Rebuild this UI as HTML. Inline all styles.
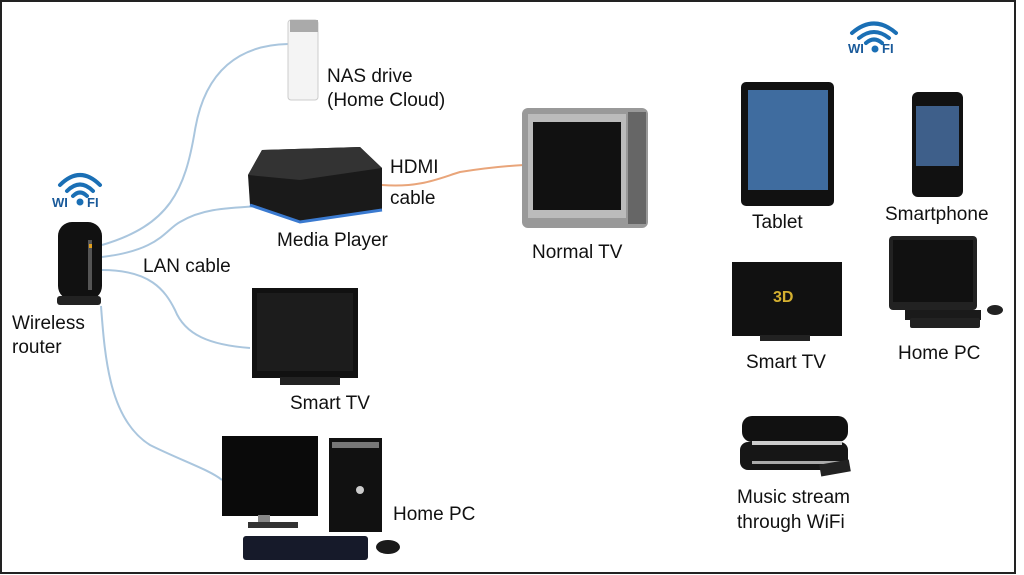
<!DOCTYPE html>
<html><head><meta charset="utf-8"><style>
html,body{margin:0;padding:0;background:#fff;}
svg{display:block}
text{font-family:"Liberation Sans",sans-serif;font-size:19px;fill:#111;}
</style></head><body>
<svg width="1024" height="575" viewBox="0 0 1024 575" xmlns="http://www.w3.org/2000/svg">
<rect x="1" y="1" width="1014" height="572" fill="#fff" stroke="#222" stroke-width="2"/>
<!-- cables -->
<g fill="none" stroke="#aac6de" stroke-width="2">
<path d="M102,245 C170,225 185,190 195,130 C205,70 240,45 288,44"/>
<path d="M102,257 C160,250 165,230 180,222 C200,210 220,208 262,206"/>
<path d="M102,270 C150,270 165,290 175,310 C185,335 210,345 250,348"/>
<path d="M101,306 C105,360 110,420 150,445 C180,460 210,470 222,480"/>
</g>
<path d="M382,185 C420,188 440,178 460,172 C485,168 505,166 524,165" fill="none" stroke="#e9a57a" stroke-width="2"/>
<!-- wifi icons -->
<g fill="none" stroke="#1a6fb5" stroke-width="4" stroke-linecap="round">
<path d="M60,185 Q80,165 100,185"/><path d="M67,191 Q80,178 93,191"/><path d="M73,196 Q80,189 87,196"/>
<path d="M852,33 Q874,14 896,33"/><path d="M859,38 Q874,26 889,38"/><path d="M866,43 Q874,36 882,43"/>
</g>
<text x="52" y="207" style="font-size:13px;font-weight:bold;fill:#1a5a9a">WI</text><circle cx="80" cy="202" r="3.5" fill="#1a6fb5"/><text x="87" y="207" style="font-size:13px;font-weight:bold;fill:#1a5a9a">FI</text>
<text x="848" y="53" style="font-size:13px;font-weight:bold;fill:#1a5a9a">WI</text><circle cx="875" cy="49" r="3.5" fill="#1a6fb5"/><text x="882" y="53" style="font-size:13px;font-weight:bold;fill:#1a5a9a">FI</text>
<!-- router -->
<rect x="58" y="222" width="44" height="78" rx="14" fill="#111"/>
<rect x="88" y="240" width="4" height="50" fill="#555"/>
<rect x="89" y="244" width="3" height="4" fill="#e0a020"/>
<rect x="57" y="296" width="44" height="9" rx="3" fill="#222"/>
<!-- NAS -->
<rect x="288" y="20" width="30" height="80" rx="3" fill="#f4f4f4" stroke="#ccc"/>
<rect x="290" y="20" width="28" height="12" fill="#aaa"/>
<!-- media player -->
<path d="M262,150 L360,147 L382,168 L382,210 L300,222 L250,205 L248,175 Z" fill="#1a1a1a"/>
<path d="M250,205 L300,222 L382,210" fill="none" stroke="#3a7ad0" stroke-width="3"/>
<path d="M262,150 L360,147 L382,168 L300,180 L248,175 Z" fill="#333"/>
<!-- normal TV -->
<rect x="522" y="108" width="126" height="120" rx="6" fill="#999"/>
<rect x="528" y="114" width="98" height="104" fill="#bbb"/>
<rect x="533" y="122" width="88" height="88" fill="#111"/>
<rect x="628" y="112" width="18" height="112" fill="#666"/>
<!-- left smart TV -->
<rect x="252" y="288" width="106" height="90" fill="#111"/>
<rect x="257" y="293" width="96" height="78" fill="#1c1c1c"/>
<rect x="280" y="377" width="60" height="8" fill="#222"/>
<!-- left PC -->
<rect x="222" y="436" width="96" height="80" fill="#0a0a0a"/>
<rect x="258" y="515" width="12" height="10" fill="#888"/>
<rect x="248" y="522" width="50" height="6" fill="#333"/>
<rect x="329" y="438" width="53" height="94" fill="#111"/>
<rect x="332" y="442" width="47" height="6" fill="#777"/>
<circle cx="360" cy="490" r="4" fill="#ccc"/>
<rect x="243" y="536" width="125" height="24" rx="3" fill="#161a2a"/>
<ellipse cx="388" cy="547" rx="12" ry="7" fill="#1a1a1a"/>
<!-- tablet -->
<rect x="741" y="82" width="93" height="124" rx="5" fill="#111"/>
<rect x="748" y="90" width="80" height="100" fill="#3f6c9f"/>
<!-- smartphone -->
<rect x="912" y="92" width="51" height="105" rx="6" fill="#111"/>
<rect x="916" y="106" width="43" height="60" fill="#3e5f8a"/>
<!-- right smart TV -->
<rect x="732" y="262" width="110" height="74" fill="#111"/>
<rect x="760" y="335" width="50" height="6" fill="#222"/>
<text x="773" y="302" style="font-size:16px;font-weight:bold;fill:#d4b030">3D</text>
<!-- right PC -->
<rect x="889" y="236" width="88" height="74" rx="4" fill="#222"/>
<rect x="893" y="240" width="80" height="62" fill="#111"/>
<rect x="905" y="310" width="76" height="10" fill="#1a1a1a"/>
<rect x="910" y="318" width="70" height="10" rx="2" fill="#222"/>
<ellipse cx="995" cy="310" rx="8" ry="5" fill="#222"/>
<!-- music -->
<rect x="742" y="416" width="106" height="26" rx="10" fill="#111"/>
<rect x="740" y="442" width="108" height="28" rx="8" fill="#161616"/>
<rect x="752" y="441" width="90" height="4" fill="#ccc"/>
<rect x="752" y="461" width="90" height="3" fill="#aaa"/>
<rect x="820" y="462" width="30" height="12" fill="#222" transform="rotate(-10 835 468)"/>
<!-- labels -->
<text x="327" y="82">NAS drive</text>
<text x="327" y="106">(Home Cloud)</text>
<text x="390" y="173">HDMI</text>
<text x="390" y="204">cable</text>
<text x="277" y="246">Media Player</text>
<text x="143" y="272">LAN cable</text>
<text x="532" y="258">Normal TV</text>
<text x="12" y="329">Wireless</text>
<text x="12" y="353">router</text>
<text x="290" y="409">Smart TV</text>
<text x="393" y="520">Home PC</text>
<text x="752" y="228">Tablet</text>
<text x="885" y="220">Smartphone</text>
<text x="746" y="368">Smart TV</text>
<text x="898" y="359">Home PC</text>
<text x="737" y="503">Music stream</text>
<text x="737" y="528">through WiFi</text>
</svg>
</body></html>
